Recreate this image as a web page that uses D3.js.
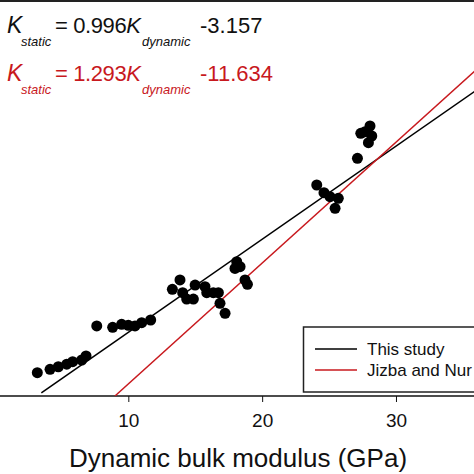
<!DOCTYPE html><html><head><meta charset="utf-8"><script src="https://cdn.jsdelivr.net/npm/d3@7"></script>
<style>body{margin:0;background:#fff}text{font-family:"Liberation Sans",Arial,sans-serif}</style></head><body><svg id="c" width="474" height="474"></svg><script>
const kDynamic=[3.2,4.15,4.77,5.4,5.84,6.52,6.84,7.64,8.83,9.5,10.0,10.5,11.0,11.67,13.29,13.86,14.06,14.36,14.86,14.99,15.73,15.86,16.35,16.73,16.85,17.23,18.1,17.97,18.35,18.72,18.9,24.08,24.62,25.07,25.45,25.69,27.12,27.37,28.06,28.19,27.94,27.69];
const kStatic=[2.5,2.85,3.13,3.4,3.67,3.85,4.28,7.49,7.35,7.67,7.56,7.49,7.84,8.13,11.41,12.41,11.05,10.37,10.37,11.87,11.69,11.05,11.05,11.05,9.91,8.84,14.37,13.65,13.83,12.41,11.94,22.57,21.75,21.32,20.07,21.14,25.42,28.1,28.88,27.81,27.09,28.27];
const xTicks=[10,20,30];
const fits=[{name:"This study",a:0.996,b:-3.157,x0:3.5,color:"#000"},{name:"Jizba and Nur",a:1.293,b:-11.634,x0:9.0,color:"#c8191e"}];
const svg=d3.select("#c");
const x=d3.scaleLinear().domain([0,35.83]).range([-5.5,474]);
const y=d3.scaleLinear().domain([0,42.25]).range([396,1]);
svg.append("line").attr("x1",0).attr("x2",474).attr("y1",1).attr("y2",1).attr("stroke","#222").attr("stroke-width",2);
const ax=svg.append("g").attr("transform","translate(0,396)").call(d3.axisBottom(x).tickValues(xTicks).tickSize(6).tickPadding(12));
ax.select(".domain").remove();
svg.append("line").attr("x1",0).attr("x2",474).attr("y1",396).attr("y2",396).attr("stroke","#111").attr("stroke-width",1.5);
ax.selectAll("text").attr("font-size",19).attr("fill","#111");
ax.selectAll("line").attr("stroke","#111");
svg.append("text").attr("x",238).attr("y",467).attr("text-anchor","middle").attr("font-size",26).attr("fill","#111").text("Dynamic bulk modulus (GPa)");
const clip=svg.append("clipPath").attr("id","cp").append("rect").attr("x",0).attr("y",1).attr("width",474).attr("height",395);
fits.forEach(f=>{const x1=40;svg.append("line").attr("clip-path","url(#cp)").attr("x1",x(f.x0)).attr("y1",y(f.a*f.x0+f.b)).attr("x2",x(x1)).attr("y2",y(f.a*x1+f.b)).attr("stroke",f.color).attr("stroke-width",1.5);});
svg.append("g").selectAll("circle").data(kDynamic).join("circle").attr("cx",d=>x(d)).attr("cy",(d,i)=>y(kStatic[i])).attr("r",5.5).attr("fill","#000");
const lg=svg.append("g");
lg.append("rect").attr("x",303.5).attr("y",327).attr("width",200).attr("height",65).attr("fill","#fff").attr("stroke","#222").attr("stroke-width",1.5);
fits.forEach((f,i)=>{lg.append("line").attr("x1",315).attr("x2",357).attr("y1",349+i*21).attr("y2",349+i*21).attr("stroke",f.color).attr("stroke-width",1.5);
lg.append("text").attr("x",367).attr("y",355+i*21).attr("font-size",17).attr("fill","#111").text(f.name);});
fits.forEach((f,i)=>{const g=svg.append("g").attr("fill",i?"#c8191e":"#111");const by=33+i*48;
g.append("text").attr("x",7).attr("y",by).attr("font-size",23).attr("font-style","italic").text("K");
g.append("text").attr("x",21).attr("y",by+13).attr("font-size",13).attr("font-style","italic").text("static");
const t=g.append("text").attr("x",55).attr("y",by).attr("font-size",22).attr("textLength",86);t.append("tspan").text("= "+f.a.toFixed(3));t.append("tspan").attr("font-style","italic").text("K");
g.append("text").attr("x",142).attr("y",by+13).attr("font-size",13).attr("font-style","italic").text("dynamic");
g.append("text").attr("x",200).attr("y",by).attr("font-size",22).text(String(f.b.toFixed(3)));});
</script></body></html>
